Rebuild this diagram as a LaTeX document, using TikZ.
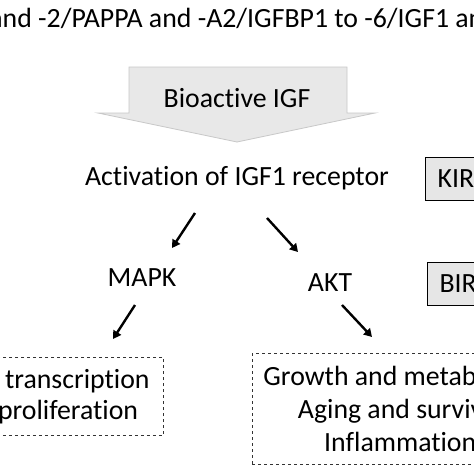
\documentclass[tikz,border=0pt]{standalone}
\usepackage{fontspec}
\setmainfont{Carlito}[Ligatures={NoCommon}]
\usetikzlibrary{arrows.meta}
\definecolor{boxfill}{RGB}{230,230,230}
\definecolor{arrfill}{RGB}{232,232,232}
\definecolor{arredge}{RGB}{200,200,200}
\begin{document}
\begin{tikzpicture}[x=1pt,y=-1pt,
  txt/.style={font=\fontsize{27.8}{33}\selectfont, inner sep=0pt},
  graybox/.style={txt, draw=black, line width=1.1pt, fill=boxfill, inner xsep=12pt, minimum height=43pt, anchor=north west},
  dbox/.style={txt, draw=black!80, dashed, line width=0.9pt, align=center},
  flow/.style={line width=2.4pt, -{Triangle[length=8pt,width=9pt]}}
]
\useasboundingbox (0,0) rectangle (474,474);
\clip (0,0) rectangle (474,474);
\fill[white] (0,0) rectangle (474,474);
% top line
\node[txt, anchor=base west] (top) at (38,27) {\llap{and }-2/PAPPA and -A2/IGFBP1 to -6/IGF1 an\rlap{d}};
% big arrow
\draw[fill=arrfill, draw=arredge, line width=0.8pt] (129,67) -- (347,67) -- (347,113) -- (375,113) -- (237,142) -- (98,113) -- (129,113) -- cycle;
\node[txt] (bio) at (237,98) {Bioactive IGF};
\node[txt] (act) at (237,178) {Activation of IGF1 receptor};
\node[graybox] (kira) at (425,157) {KIRA};
\node[graybox] (bira) at (427,262) {BIRA};
\node[txt] (mapk) at (142,278) {MAPK};
\node[txt] (akt) at (330,283) {AKT};
\node[dbox, anchor=north east, inner xsep=14pt, minimum height=78pt, font=\fontsize{27.8}{31}\selectfont] (gene) at (164,357) {Gene transcription\\Cell proliferation};
\node[dbox, anchor=north west, inner xsep=11pt, minimum height=111pt] (growth) at (252,353) {Growth and metabolism\\Aging and survival\\Inflammation};
% arrows
\coordinate (a1s) at (195,213); \coordinate (a1e) at (172,248);
\coordinate (a2s) at (267,218); \coordinate (a2e) at (298,252);
\coordinate (a3s) at (135,305); \coordinate (a3e) at (113,339);
\coordinate (a4s) at (342,305); \coordinate (a4e) at (372,337);
\draw[flow] (a1s) -- (a1e);
\draw[flow] (a2s) -- (a2e);
\draw[flow] (a3s) -- (a3e);
\draw[flow] (a4s) -- (a4e);
\end{tikzpicture}
\end{document}
